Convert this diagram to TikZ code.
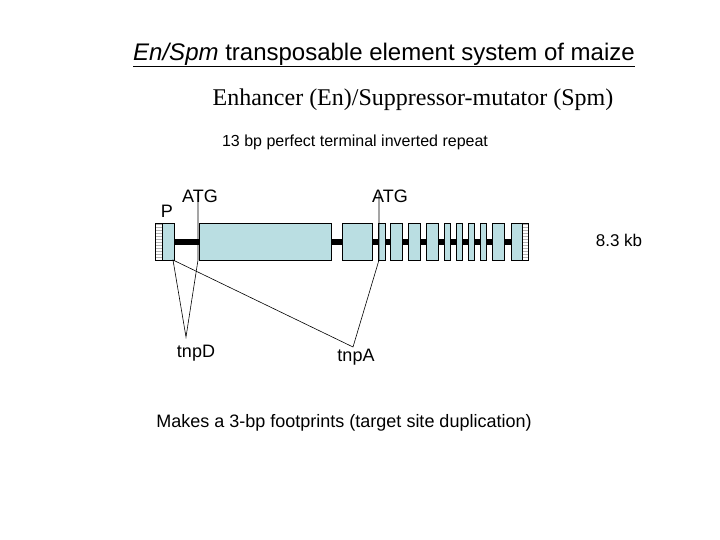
\documentclass[tikz,border=0pt]{standalone}
\usepackage{fontspec}
\setmainfont{Liberation Sans}
\newfontfamily\timesf{Liberation Serif}
\usetikzlibrary{patterns}
\begin{document}
\begin{tikzpicture}[x=1pt,y=-1pt,
  exon/.style={draw=black,fill=exonc,line width=0.6pt},
  hatch/.style={draw=black,fill=white,pattern=horizontal lines,pattern color=gray!60},
  lbl/.style={inner sep=0pt,font=\fontsize{18}{20}\selectfont},
  thin/.style={line width=0.6pt}]
\definecolor{exonc}{RGB}{186,222,226}
\useasboundingbox (0,0) rectangle (720,540);
\node[inner sep=0pt,font=\fontsize{24}{28}\selectfont] (title) at (384,55) {\underline{\textit{En/Spm} transposable element system of maize}};
\node[inner sep=0pt,font=\timesf\fontsize{24}{28}\selectfont] (sub) at (413,100) {Enhancer (En)/Suppressor-mutator (Spm)};
\node[inner sep=0pt,font=\fontsize{16}{18}\selectfont] (tir) at (355,142) {13 bp perfect terminal inverted repeat};
\draw[line width=6pt] (162,241.5) -- (522,241.5);
\draw[hatch] (155,223) rectangle (162,260);
\draw[hatch] (522,223) rectangle (528,260);
\foreach \a/\b in {162/174,199/331,342/372,378/385,390/402,408/420,426/438,444/450,456/462,468/474,480/486,492/504,511/522}
  \draw[exon] (\a,223) rectangle (\b,260);
\coordinate (a1t) at (198,193); \coordinate (a1b) at (198,260);
\coordinate (a2t) at (379,193); \coordinate (a2b) at (379,260);
\coordinate (p0) at (173,260);
\coordinate (d) at (186,337); \coordinate (aa) at (353,347);
\draw[thin] (a1t) -- (a1b) -- (d) -- (p0) -- (aa) -- (a2b) -- (a2t);
\node[lbl] (atg1) at (200,196) {ATG};
\node[lbl] (atg2) at (390,196) {ATG};
\node[lbl] (p) at (167,211) {P};
\node[lbl,font=\fontsize{17}{20}\selectfont] (kb) at (619,240) {8.3 kb};
\node[lbl] (tnpd) at (196,353) {tnpD};
\node[lbl] (tnpa) at (356,357) {tnpA};
\node[inner sep=0pt,font=\fontsize{18}{20}\selectfont] (foot) at (344,423) {Makes a 3-bp footprints (target site duplication)};
\end{tikzpicture}
\end{document}
